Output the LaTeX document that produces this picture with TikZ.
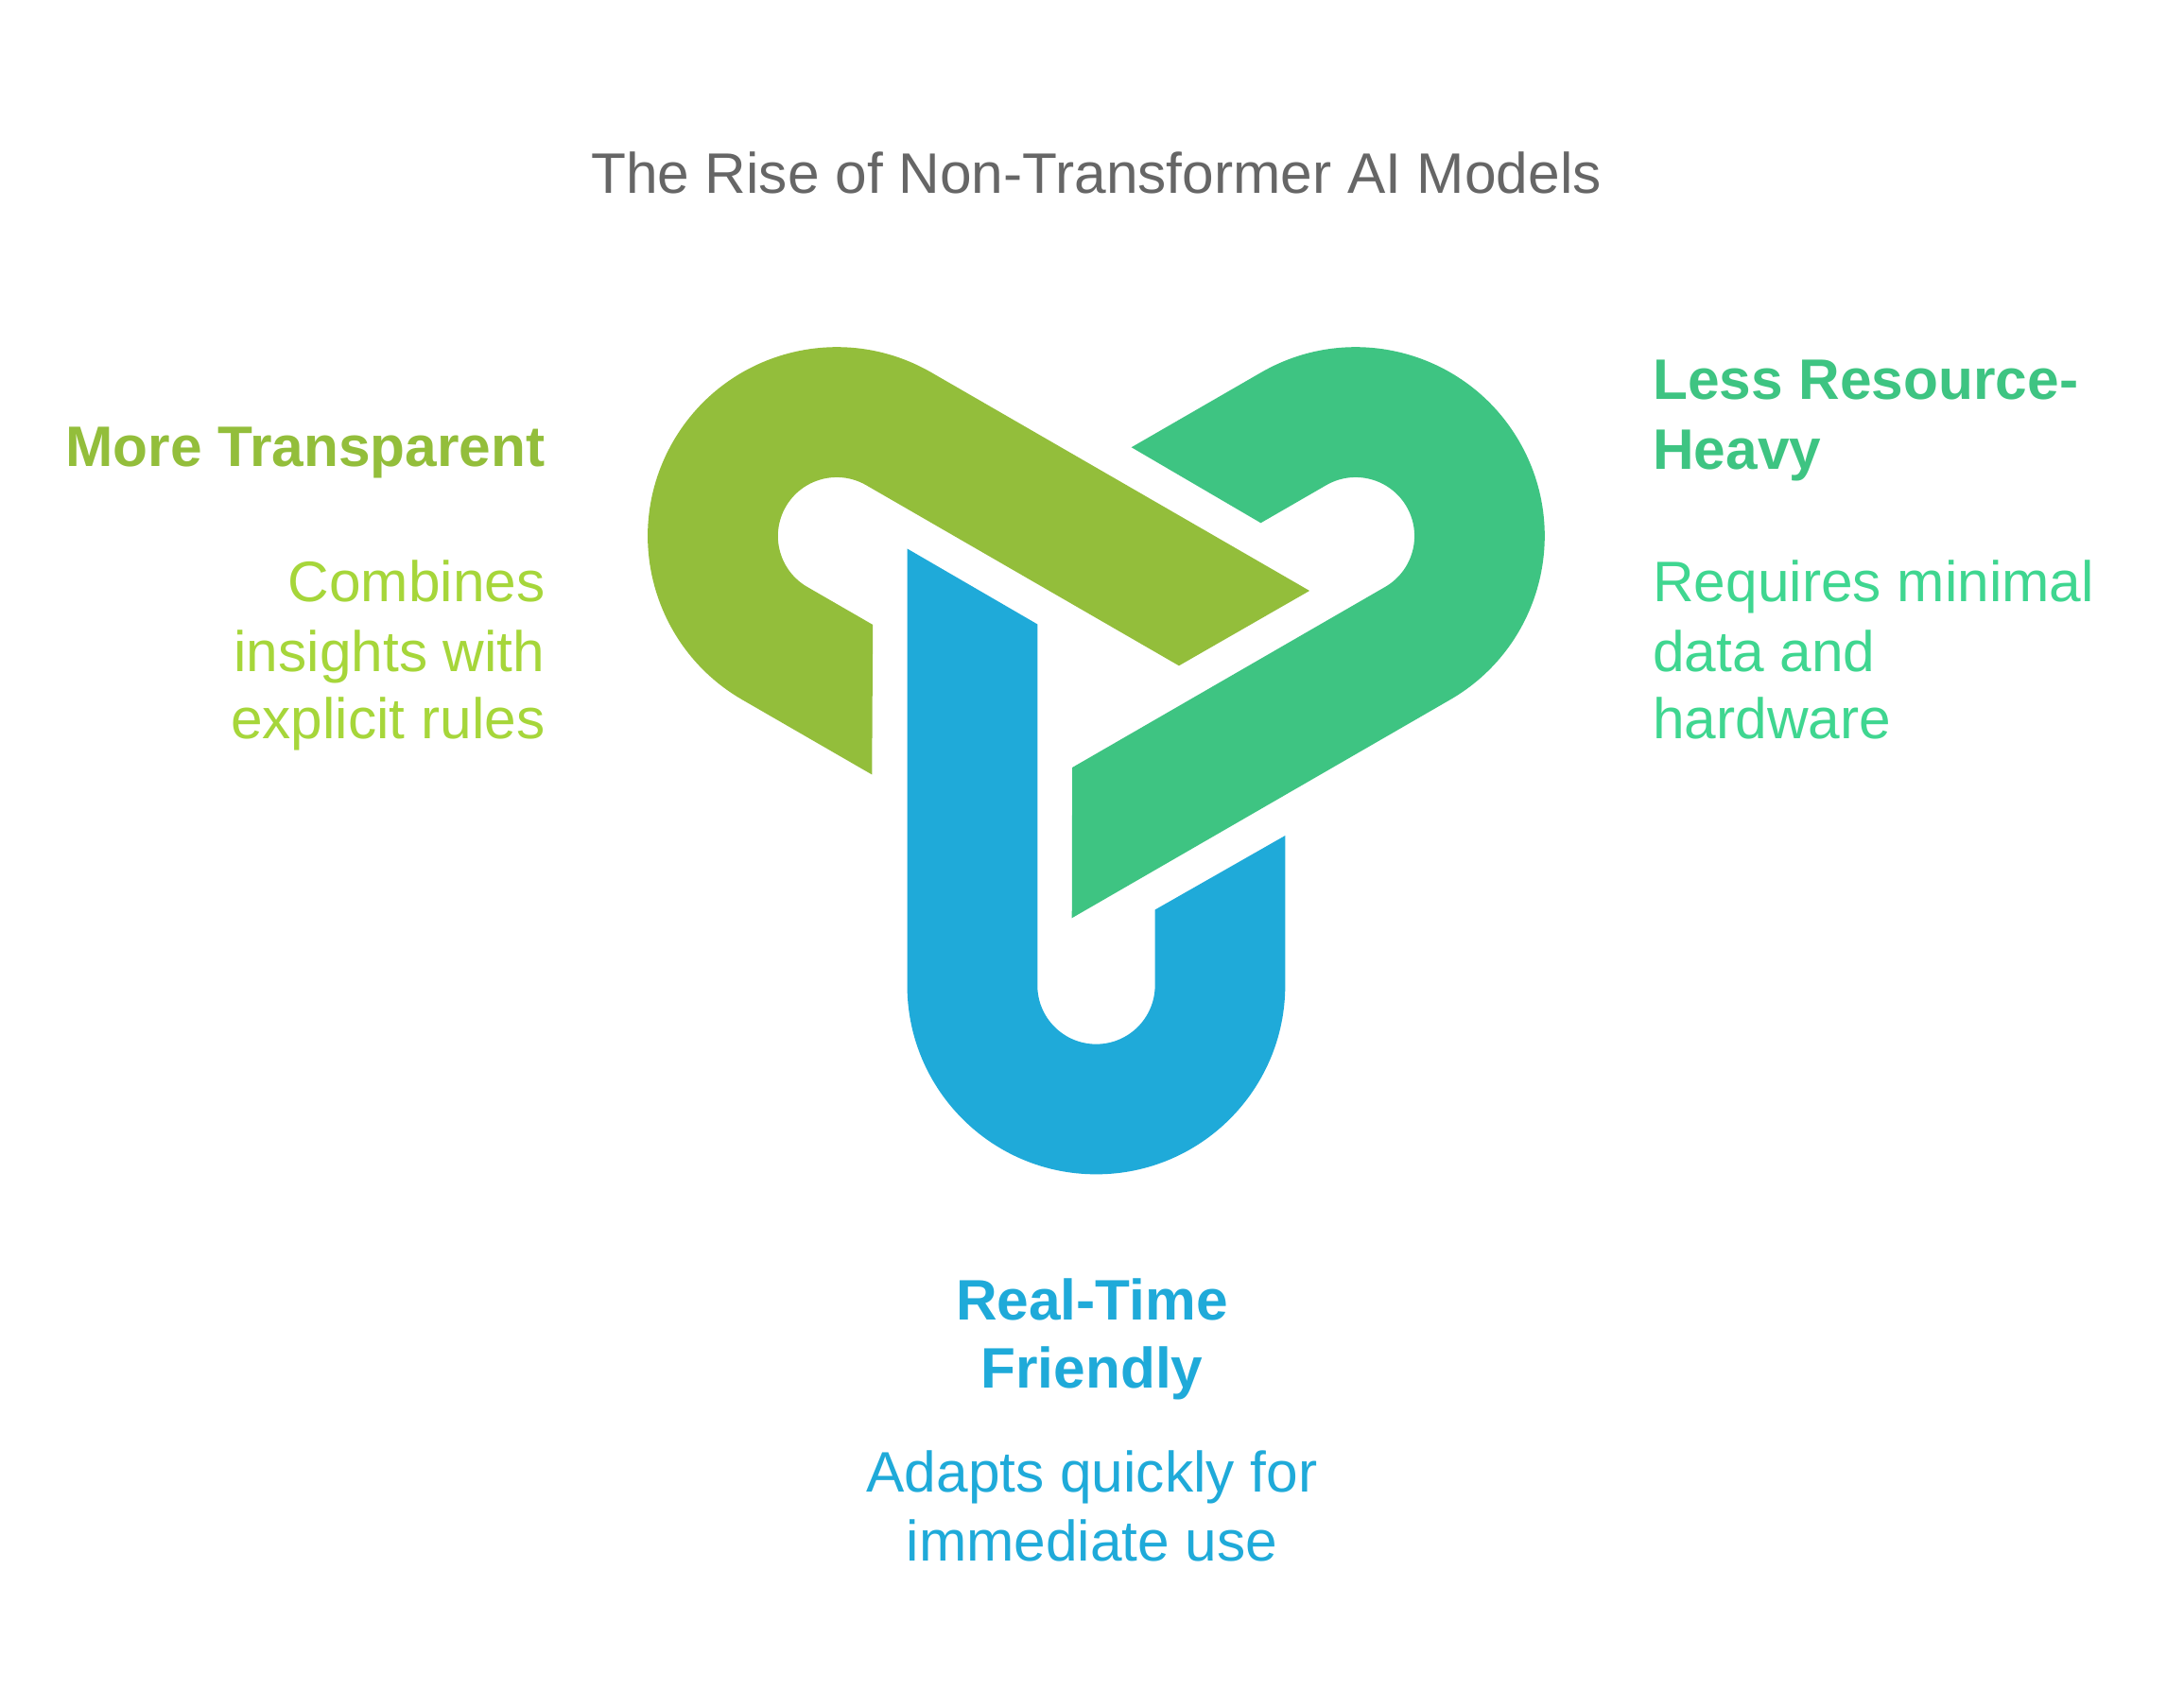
\documentclass[tikz,border=0pt]{standalone}
\usepackage{fontspec}
\setmainfont{Liberation Sans}
\definecolor{cA}{HTML}{93BE3B}
\definecolor{cAt}{HTML}{A6D63A}
\definecolor{cB}{HTML}{3EC482}
\definecolor{cBt}{HTML}{3FD690}
\definecolor{cC}{HTML}{1FAAD9}
\definecolor{tg}{HTML}{666666}
\begin{document}
\begin{tikzpicture}[x=0.01cm,y=0.01cm,
  txt/.style={inner sep=0pt,font=\fontsize{11.6}{14}\selectfont},
  bold/.style={txt,font=\fontsize{11.6}{14}\selectfont\bfseries}]
\useasboundingbox (0,0) rectangle (1560,1220);
\fill[white] (0,0) rectangle (1560,1220);
\newcommand\loopshape{(-135,312) -- (-135,0) arc (180:360:135) -- (135,107) -- (42,54) -- (42,0) arc (0:-180:42) -- (-42,258) -- cycle}
\begin{scope}[shift={(783,730)},rotate=0,shift={(0,-214)}]
  \fill[cC] \loopshape;
\end{scope}
\begin{scope}[shift={(783,730)},rotate=120,shift={(0,-214)}]
  \fill[cB] \loopshape;
\end{scope}
\begin{scope}[shift={(783,730)},rotate=240,shift={(0,-214)}]
  \fill[cA] \loopshape;
\end{scope}
\node[txt,text=tg,anchor=base] (title) at (783,1082) {The Rise of Non-Transformer AI Models};
\node[bold,text=cA,anchor=base east] (a1) at (390,887) {More Transparent};
\node[txt,text=cAt,anchor=base east] (a2) at (390,790) {Combines};
\node[txt,text=cAt,anchor=base east] (a3) at (390,740) {insights with};
\node[txt,text=cAt,anchor=base east] (a4) at (390,692) {explicit rules};
\node[bold,text=cB,anchor=base west] (b1) at (1180,935) {Less Resource-};
\node[bold,text=cB,anchor=base west] (b2) at (1180,885) {Heavy};
\node[txt,text=cBt,anchor=base west] (b3) at (1180,790) {Requires minimal};
\node[txt,text=cBt,anchor=base west] (b4) at (1180,740) {data and};
\node[txt,text=cBt,anchor=base west] (b5) at (1180,692) {hardware};
\node[bold,text=cC,anchor=base] (c1) at (780,277) {Real-Time};
\node[bold,text=cC,anchor=base] (c2) at (780,228) {Friendly};
\node[txt,text=cC,anchor=base] (c3) at (780,154) {Adapts quickly for};
\node[txt,text=cC,anchor=base] (c4) at (780,105) {immediate use};
\end{tikzpicture}
\end{document}
